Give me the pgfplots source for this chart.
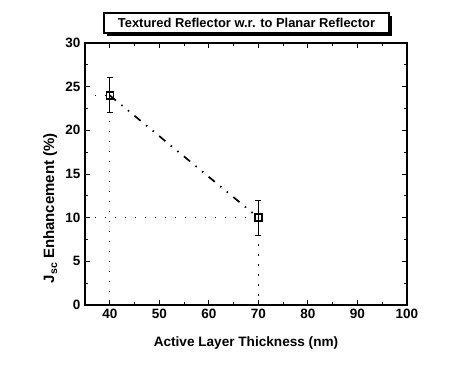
\documentclass[border=0pt]{standalone}
\usepackage{fontspec}
\setmainfont{Liberation Sans}
\usepackage{pgfplots}
\pgfplotsset{compat=1.18}
\usetikzlibrary{shadows}
\begin{document}
\begin{tikzpicture}[x=1pt,y=1pt]
\useasboundingbox (0,0) rectangle (474,367);
\begin{axis}[
  at={(85pt,62pt)}, anchor=south west,
  scale only axis, width=322pt, height=262pt,
  xmin=35, xmax=100, ymin=0, ymax=30,
  xtick={40,50,...,100}, ytick={0,5,...,30},
  minor x tick num=1, minor y tick num=1,
  tick align=inside,
  major tick length=5pt, minor tick length=3pt,
  axis line style={line width=1.2pt},
  every tick/.style={line width=1pt, black},
  /pgf/number format/assume math mode=true,
  tick label style={font=\fontsize{13.5}{15}\bfseries},
  xticklabel style={yshift=-1pt},
  yticklabel style={xshift=-1pt},
  xlabel={Active Layer Thickness (nm)},
  ylabel={J{\fontsize{10.5}{12}\selectfont\raisebox{-3pt}{sc}} Enhancement (\%)},
  ylabel style={at={(axis description cs:-0.108,0.37)}, anchor=center, font=\fontsize{15}{17}\bfseries},
  xlabel style={at={(axis description cs:0.5,-0.145)}, anchor=center, font=\fontsize{13.6}{16}\bfseries},
  clip=false,
]
\addplot[black, line width=1.4pt, dash pattern=on 1.4pt off 8.6pt] coordinates {(35,24) (40,24) (40,0)};
\addplot[black, line width=1.4pt, dash pattern=on 1.4pt off 8.6pt] coordinates {(35,10) (70,10) (70,0)};
\addplot[black, line width=1.7pt, dash pattern=on 8pt off 7pt on 1.5pt off 7pt on 1.5pt off 7pt,
  mark=square, mark size=3.5pt, mark options={solid, line width=1.4pt, fill=white},
  error bars/.cd, y dir=both, y explicit,
  error bar style={solid, line width=1pt},
  error mark options={solid, rotate=90, mark size=3pt, line width=1pt}]
  coordinates {(40,24) +- (0,2) (70,10) +- (0,2)};
\end{axis}
\node[draw, line width=1.2pt, fill=white, minimum width=285pt, minimum height=20pt,
  font=\fontsize{12.9}{14}\bfseries,
  drop shadow={shadow xshift=3pt, shadow yshift=-3pt, fill=black, opacity=1}]
  at (246.5,344) {Textured Reflector w.r. to Planar Reflector};
\end{tikzpicture}
\end{document}
